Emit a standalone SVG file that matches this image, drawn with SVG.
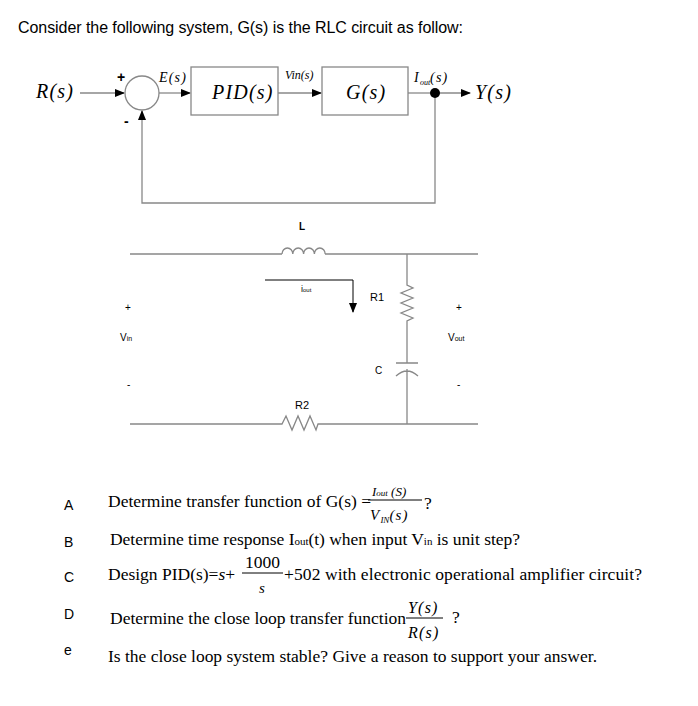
<svg xmlns="http://www.w3.org/2000/svg" width="698" height="706" viewBox="0 0 698 706">
<defs>
<style>
.w{stroke:#888;stroke-width:1.3;fill:none}
.b{stroke:#888;stroke-width:1.3;fill:#fff}
.m{font-family:"Liberation Serif",serif;font-style:italic;fill:#000}
.s{font-family:"Liberation Sans",Arial,sans-serif;fill:#000}
.t{font-family:"Liberation Serif",serif;font-size:17.5px;fill:#000}
.bl{letter-spacing:1.2px}
</style>
<marker id="a" markerWidth="10" markerHeight="8" refX="9" refY="4" orient="auto" markerUnits="userSpaceOnUse"><path d="M0,0L10,4L0,8z" fill="#000"/></marker>
</defs>
<rect width="698" height="706" fill="#fff"/>
<text x="18" y="33" class="s" font-size="16" textLength="445">Consider the following system, G(s) is the RLC circuit as follow:</text>
<g id="connectors">
<line x1="80" y1="93" x2="124" y2="93" class="w" marker-end="url(#a)"/>
<line x1="159" y1="93" x2="190" y2="93" class="w" marker-end="url(#a)"/>
<line x1="278" y1="93" x2="321" y2="93" class="w" marker-end="url(#a)"/>
<line x1="408" y1="93" x2="435" y2="93" class="w"/>
<line x1="435" y1="93" x2="470" y2="93" class="w" marker-end="url(#a)"/>
<polyline points="435,93 435,203 142,203 142,111" class="w" marker-end="url(#a)"/>
</g>
<g id="sum"><circle cx="142" cy="93" r="17" class="b"/>
<text x="117" y="82" class="s" font-size="14" font-weight="bold">+</text>
<text x="124" y="126" class="s" font-size="14" font-weight="bold">-</text></g>
<g id="pid"><rect x="191" y="67" width="87" height="48" class="b"/><text x="212" y="99" class="m bl" font-size="20">PID(s)</text></g>
<g id="g"><rect x="322" y="67" width="86" height="48" class="b"/><text x="346" y="99" class="m bl" font-size="20">G(s)</text></g>
<circle cx="435" cy="93" r="5" fill="#000"/>
<text x="36" y="98" class="m bl" font-size="20">R(s)</text>
<text x="475" y="99" class="m bl" font-size="20">Y(s)</text>
<text x="159" y="82" class="m bl" font-size="14">E(s)</text>
<text x="285" y="79" class="m" font-size="12">Vin(s)</text>
<text x="414" y="82" class="m bl" font-size="14">I<tspan font-size="8" dy="3" letter-spacing="0">out</tspan><tspan dy="-3">(s)</tspan></text>
<g id="circuit">
<path d="M130,254H282M325,254H478M282,254a5.4,6 0 0 1 10.8,0a5.4,6 0 0 1 10.8,0a5.4,6 0 0 1 10.8,0a5.4,6 0 0 1 10.8,0" class="w"/>
<path d="M407,254V285l6,3l-12,5l12,5l-12,5l12,5l-12,5l12,5l-6,3V363M396,363H418M396,376q11,-10 22,0M407,369V424" class="w"/>
<path d="M130,424H282l4,-8l6,14l6,-14l6,14l6,-14l6,14l2,-6H478" class="w"/>
<line x1="265" y1="280" x2="353" y2="280" stroke="#000" stroke-width="1"/>
<line x1="353" y1="280" x2="353" y2="312" stroke="#000" stroke-width="1" marker-end="url(#a)"/>
<text x="299" y="230" class="s" font-size="10" font-weight="bold">L</text>
<text x="301" y="292" class="s" font-size="9">i<tspan font-size="6">out</tspan></text>
<text x="370" y="301" class="s" font-size="11">R1</text>
<text x="375" y="374" class="s" font-size="10">C</text>
<text x="295" y="409" class="s" font-size="11">R2</text>
<text x="125" y="311" class="s" font-size="10">+</text>
<text x="120" y="341" class="s" font-size="10">V<tspan font-size="7">in</tspan></text>
<text x="127" y="388" class="s" font-size="10">-</text>
<text x="456" y="311" class="s" font-size="10">+</text>
<text x="448" y="341" class="s" font-size="10">V<tspan font-size="7">out</tspan></text>
<text x="457" y="388" class="s" font-size="10">-</text>
</g>
<g id="questions">
<text x="64" y="510" class="s" font-size="14">A</text>
<text x="108" y="507" class="t">Determine transfer function of G(s) =</text>
<text x="372" y="496" class="m" font-size="13">I<tspan font-size="9">out</tspan> (S)</text>
<line x1="368" y1="500" x2="422" y2="500" stroke="#000"/>
<text x="370" y="520" class="m bl" font-size="15">V<tspan font-size="9" dy="3" letter-spacing="0">IN</tspan><tspan dy="-3">(s)</tspan></text>
<text x="424" y="509" class="t">?</text>
<text x="64" y="547" class="s" font-size="14">B</text>
<text x="110" y="545" class="t" textLength="410">Determine time response I<tspan font-size="11">out</tspan>(t) when input V<tspan font-size="11">in</tspan> is unit step?</text>
<text x="64" y="582" class="s" font-size="14">C</text>
<text x="108" y="580" class="t">Design PID(s)=<tspan font-style="italic">s</tspan>+</text>
<text x="245" y="568" class="t">1000</text>
<line x1="242" y1="573" x2="283" y2="573" stroke="#000"/>
<text x="259" y="593" class="m" font-size="15">s</text>
<text x="284" y="580" class="t" textLength="358">+502  with electronic operational amplifier circuit?</text>
<text x="64" y="619" class="s" font-size="14">D</text>
<text x="110" y="624" class="t" textLength="296">Determine the close loop transfer function</text>
<line x1="406" y1="618" x2="443" y2="618" stroke="#000"/>
<text x="408" y="613" class="m bl" font-size="16">Y(s)</text>
<text x="408" y="638" class="m bl" font-size="16">R(s)</text>
<text x="452" y="623" class="t">?</text>
<text x="64" y="655" class="s" font-size="14">e</text>
<text x="108" y="662" class="t" textLength="489">Is the close loop system stable? Give a reason to support your answer.</text>
</g>
</svg>
